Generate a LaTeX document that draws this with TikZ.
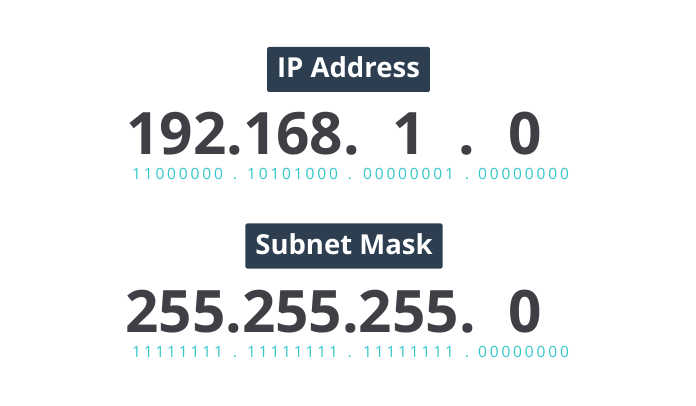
\documentclass[tikz,border=0pt]{standalone}
\usepackage{fontspec}
\usepackage{tikz}
\newfontfamily\numfont{Open Sans}
\newfontfamily\labelfont{Open Sans}
\definecolor{navy}{HTML}{2C3E50}
\definecolor{numgray}{HTML}{3F4046}
\definecolor{bitteal}{HTML}{33C7C8}
% each digit in a cell of the same width
\def\bitcell#1{\ifx#1\relax\else\makebox[11.7pt]{#1}\expandafter\bitcell\fi}
\newcommand{\bitgroup}[1]{\bitcell#1\relax}

\begin{document}
\begin{tikzpicture}[x=1pt,y=-1pt]
					\tikzstyle{tag}=[fill=navy,rounded corners=2pt,text=white,font=\labelfont\bfseries\fontsize{27.5}{27.5}\selectfont,inner xsep=10pt,inner ysep=0pt,minimum height=45pt,text height=21pt,text depth=4pt]
					\tikzstyle{big}=[inner sep=0pt,anchor=base,text=numgray,text depth=0pt,font=\numfont\bfseries\fontsize{58.5}{58.5}\selectfont]
					\tikzstyle{bits}=[inner sep=0pt,anchor=base,text=bitteal,font=\numfont\fontsize{15.5}{15.5}\selectfont]
					\useasboundingbox[fill=white] (0,0) rectangle (696,406);
					% IP address
					\node[tag] (ip) at (348.5,69.5) {IP Address};
					\node[big,anchor=base west] (ipa) at (126,155) {192.168.};
					\node[big] (ipb) at (409,155) {1};
					\node[big] (ipc) at (467,155) {.};
					\node[big] (ipd) at (525,155) {0};
					\node[bits] (ipbits1) at (177.5,180) {\bitgroup{11000000}};
					\node[bits] (ipdot1) at (235,180) {.};
					\node[bits] (ipbits2) at (292.5,180) {\bitgroup{10101000}};
					\node[bits] (ipdot2) at (350,180) {.};
					\node[bits] (ipbits3) at (408.5,180) {\bitgroup{00000001}};
					\node[bits] (ipdot3) at (467,180) {.};
					\node[bits] (ipbits4) at (523.5,180) {\bitgroup{00000000}};
					% subnet mask
					\node[tag] (mask) at (344,246) {Subnet Mask};
					\node[big,anchor=base west] (maska) at (125,332.5) {255.255.255.};
					\node[big] (maskd) at (525,332.5) {0};
					\node[bits] (maskbits1) at (177.5,357.5) {\bitgroup{11111111}};
					\node[bits] (maskdot1) at (235,357.5) {.};
					\node[bits] (maskbits2) at (292.5,357.5) {\bitgroup{11111111}};
					\node[bits] (maskdot2) at (350,357.5) {.};
					\node[bits] (maskbits3) at (408.5,357.5) {\bitgroup{11111111}};
					\node[bits] (maskdot3) at (467,357.5) {.};
					\node[bits] (maskbits4) at (523.5,357.5) {\bitgroup{00000000}};
\end{tikzpicture}
\end{document}
